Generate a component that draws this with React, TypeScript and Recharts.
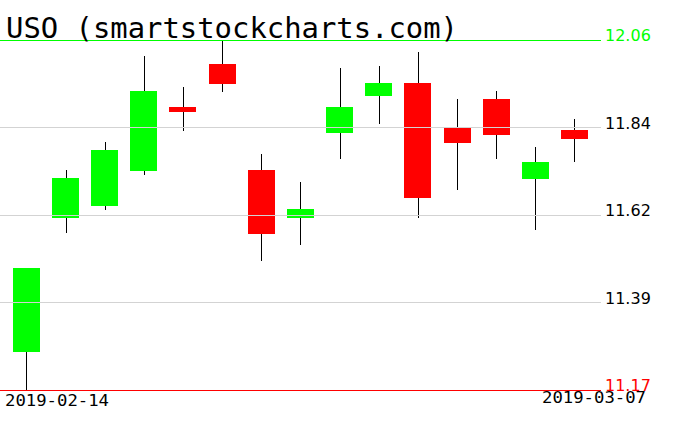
import React from 'react';
import { ComposedChart, Bar, XAxis, YAxis, ReferenceLine } from 'recharts';

const title = 'USO (smartstockcharts.com)';
const dates = ['2019-02-14','2019-02-15','2019-02-19','2019-02-20','2019-02-21','2019-02-22','2019-02-25','2019-02-26','2019-02-27','2019-02-28','2019-03-01','2019-03-04','2019-03-05','2019-03-06','2019-03-07'];
const opens = [11.267, 11.607, 11.638, 11.727, 11.890, 11.999, 11.729, 11.607, 11.824, 11.918, 11.951, 11.839, 11.910, 11.707, 11.831];
const highs = [11.480, 11.729, 11.801, 12.019, 11.940, 12.060, 11.770, 11.699, 11.989, 11.994, 12.029, 11.910, 11.930, 11.788, 11.859];
const lows = [11.170, 11.569, 11.628, 11.717, 11.829, 11.928, 11.498, 11.539, 11.757, 11.846, 11.607, 11.679, 11.757, 11.577, 11.750];
const closes = [11.480, 11.709, 11.780, 11.930, 11.877, 11.948, 11.567, 11.630, 11.890, 11.951, 11.658, 11.798, 11.818, 11.750, 11.808];
const yTicks = [12.06, 11.8375, 11.615, 11.3925, 11.17];
const yTickLabels = ['12.06', '11.84', '11.62', '11.39', '11.17'];
const xTickIdx = [0, 14];

const GREEN = '#00ff00';
const RED = '#ff0000';
const GRID = '#d3d3d3';

const data = dates.map((d, i) => ({
  i,
  date: d,
  o: opens[i],
  h: highs[i],
  l: lows[i],
  c: closes[i],
  range: [lows[i], highs[i]],
}));

const Candle = (props: any) => {
  const { x, y, width, height, payload } = props;
  if (x == null || y == null) return null;
  const top = Math.min(y, y + height);
  const hgt = Math.abs(height);
  const { o, h, l, c } = payload;
  const k = h - l > 0 ? hgt / (h - l) : 0;
  const bodyTopV = Math.max(o, c);
  const bodyBotV = Math.min(o, c);
  const by = top + (h - bodyTopV) * k;
  const bh = Math.max(1, (bodyTopV - bodyBotV) * k);
  const cx = Math.round(x + width / 2) + 0.5;
  const up = c >= o;
  return (
    <g shapeRendering="crispEdges">
      <line x1={cx} x2={cx} y1={top} y2={top + hgt} stroke="#000" strokeWidth={1} />
      <rect x={x} y={by} width={width} height={bh} fill={up ? GREEN : RED} />
    </g>
  );
};

const priceLabel = (text: string, color: string) => (props: any) => {
  const vb = props.viewBox || {};
  return (
    <text
      x={vb.x + vb.width + 4}
      y={vb.y + 1}
      fill={color}
      fontFamily="DejaVu Sans"
      fontSize={16}
      textAnchor="start"
    >
      {text}
    </text>
  );
};

const DateTick = (props: any) => {
  const { x, y, payload } = props;
  const idx = payload.value;
  const first = idx === 0;
  return (
    <text
      x={first ? x - 21.5 : x + 71.5}
      y={first ? y + 8 : y + 5}
      fill="#000"
      fontFamily="DejaVu Sans Mono"
      fontSize={16}
      textAnchor={first ? 'start' : 'end'}
      textLength={104}
      lengthAdjust="spacingAndGlyphs"
    >
      {dates[idx]}
    </text>
  );
};

export default function App() {
  return (
    <div style={{ position: 'absolute', left: 0, top: 0, width: 676, height: 431, background: '#fff' }}>
      <ComposedChart
        width={676}
        height={431}
        data={data}
        margin={{ top: 40, right: 75, bottom: 0, left: 0 }}
      >
        <XAxis
          dataKey="i"
          type="number"
          domain={[-0.677, 14.677]}
          allowDataOverflow
          ticks={xTickIdx}
          axisLine={false}
          tickLine={false}
          height={41}
          tick={<DateTick />}
          interval={0}
        />
        <YAxis hide domain={[11.17, 12.06]} allowDataOverflow />
        {yTicks.map((v, k) => {
          const color = k === 0 ? GREEN : k === yTicks.length - 1 ? RED : GRID;
          const labelColor = k === 0 ? GREEN : k === yTicks.length - 1 ? RED : '#000';
          return (
            <ReferenceLine
              key={k}
              y={v}
              stroke={color}
              strokeWidth={1}
              shapeRendering="crispEdges"
              ifOverflow="visible"
              label={{ content: priceLabel(yTickLabels[k], labelColor) } as any}
            />
          );
        })}
        <Bar dataKey="range" barSize={27} shape={<Candle />} isAnimationActive={false} />
      </ComposedChart>
      <svg
        width={676}
        height={60}
        style={{ position: 'absolute', left: 0, top: 0, pointerEvents: 'none' }}
      >
        <text
          x={6}
          y={38}
          fontFamily="DejaVu Sans Mono"
          fontSize={28}
          fill="#000"
          textLength={452}
          lengthAdjust="spacingAndGlyphs"
        >
          {title}
        </text>
      </svg>
    </div>
  );
}
